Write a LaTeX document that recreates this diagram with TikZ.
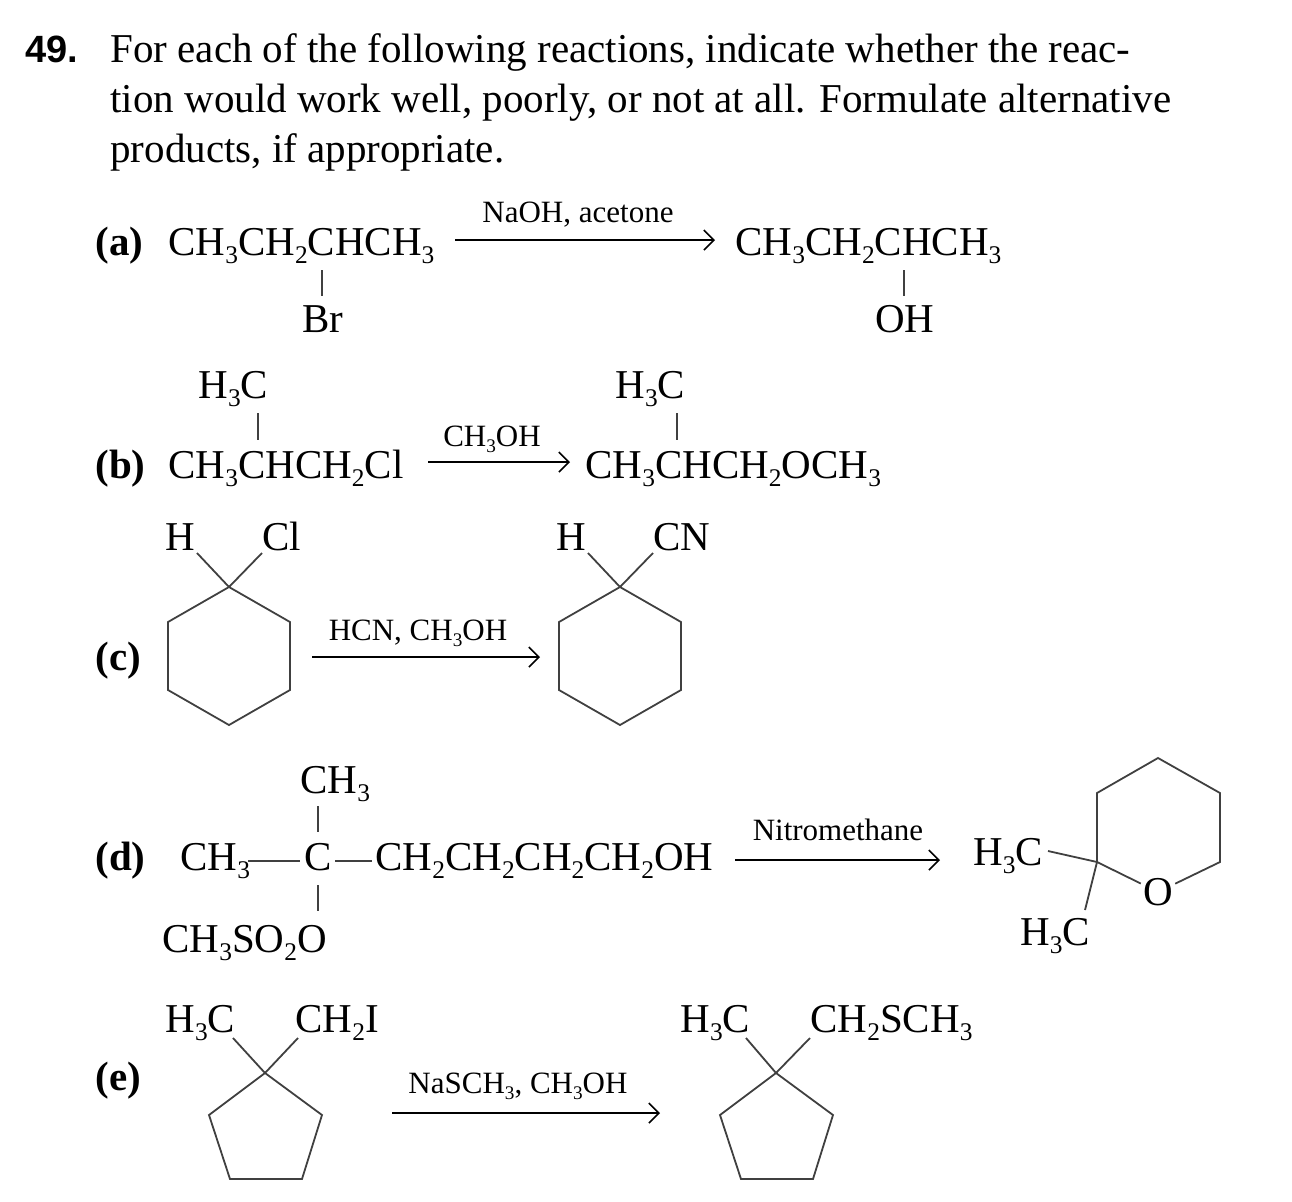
\documentclass[tikz,border=0pt]{standalone}
\usepackage{fontspec}
\usetikzlibrary{arrows.meta}
\setmainfont{Liberation Serif}
\newfontfamily\numfont{Liberation Sans}
\newcommand{\sbs}[1]{\raisebox{-0.45ex}{\scalebox{0.62}{#1}}}
\begin{document}
\begin{tikzpicture}[x=0.5pt,y=-0.5pt,
  txt/.style={inner sep=0pt,anchor=base west,font=\fontsize{20.5}{22}\selectfont},
  chem/.style={inner sep=0pt,anchor=base west,font=\fontsize{20.5}{22}\selectfont},
  lab/.style={inner sep=0pt,anchor=base,font=\fontsize{15.5}{16}\selectfont},
  bnd/.style={line width=0.9pt,draw=black!75},
  rxn/.style={line width=0.8pt,-{Straight Barb[length=5pt]}}]
\useasboundingbox (0,0) rectangle (1292,1201);
\node[txt,font=\numfont\bfseries\fontsize{19}{22}\selectfont] (num) at (25,62) {49.};
\node[txt] (l1) at (110,62) {For each of the following reactions, indicate whether the reac-};
\node[txt] (l2) at (110,112) {tion would work well, poorly, or not at all. Formulate alternative};
\node[txt] (l3) at (110,162) {products, if appropriate.};
% (a)
\node[chem] (pa) at (95,255) {\textbf{(a)}};
\node[chem] (a1) at (168,255) {CH\sbs3CH\sbs2CHCH\sbs3};
\node[chem,anchor=base] (abr) at (323,332) {Br};
\draw[bnd] (322,270) -- (322,296);
\coordinate (aa1) at (455,240); \coordinate (aa2) at (715,240);
\draw[rxn] (aa1) -- (aa2);
\node[lab] (alab) at (578,222) {NaOH, acetone};
\node[chem] (a2) at (735,255) {CH\sbs3CH\sbs2CHCH\sbs3};
\node[chem,anchor=base] (aoh) at (905,332) {OH};
\draw[bnd] (904,270) -- (904,296);
% (b)
\node[chem] (bh) at (198,398) {H\sbs3C};
\draw[bnd] (258,413) -- (258,440);
\node[chem] (pb) at (95,478) {\textbf{(b)}};
\node[chem] (b1) at (168,478) {CH\sbs3CHCH\sbs2Cl};
\coordinate (ba1) at (428,462); \coordinate (ba2) at (570,462);
\draw[rxn] (ba1) -- (ba2);
\node[lab] (blab) at (492,446) {CH\sbs3OH};
\node[chem] (bh2) at (615,398) {H\sbs3C};
\draw[bnd] (677,413) -- (677,440);
\node[chem] (b2) at (585,478) {CH\sbs3CHCH\sbs2OCH\sbs3};
% (c)
\node[chem] (pc) at (95,670) {\textbf{(c)}};
\coordinate (ct) at (229,587);
\draw[bnd] (ct) -- ++(-61,35) -- ++(0,68) -- ++(61,35) -- ++(61,-35) -- ++(0,-68) -- cycle;
\node[chem] (ch) at (165,550) {H};
\node[chem] (ccl) at (262,550) {Cl};
\draw[bnd] (ct) -- (197,553);
\draw[bnd] (ct) -- (262,553);
\coordinate (ca1) at (312,657); \coordinate (ca2) at (540,657);
\draw[rxn] (ca1) -- (ca2);
\node[lab] (clab) at (418,640) {HCN, CH\sbs3OH};
\coordinate (ct2) at (620,587);
\draw[bnd] (ct2) -- ++(-61,35) -- ++(0,68) -- ++(61,35) -- ++(61,-35) -- ++(0,-68) -- cycle;
\node[chem] (ch2) at (556,550) {H};
\node[chem] (ccn) at (653,550) {CN};
\draw[bnd] (ct2) -- (588,553);
\draw[bnd] (ct2) -- (653,553);
% (d)
\node[chem] (dch3) at (300,793) {CH\sbs3};
\draw[bnd] (318,806) -- (318,832);
\node[chem] (pd) at (95,870) {\textbf{(d)}};
\node[chem] (d1) at (180,870) {CH\sbs3};
\draw[bnd] (248,861) -- (300,861);
\node[chem,anchor=base] (dc) at (318,870) {C};
\draw[bnd] (335,861) -- (372,861);
\node[chem] (d2) at (375,870) {CH\sbs2CH\sbs2CH\sbs2CH\sbs2OH};
\draw[bnd] (318,885) -- (318,911);
\node[chem] (d3) at (162,952) {CH\sbs3SO\sbs2O};
\coordinate (da1) at (735,860); \coordinate (da2) at (940,860);
\draw[rxn] (da1) -- (da2);
\node[lab] (dlab) at (838,840) {Nitromethane};
\coordinate (r1) at (1097,862); \coordinate (r2) at (1097,793); \coordinate (r3) at (1158,758);
\coordinate (r4) at (1220,793); \coordinate (r5) at (1220,862);
\node[chem,anchor=center,inner sep=1pt] (dO) at (1158,892) {O};
\draw[bnd] (dO) -- (r5) -- (r4) -- (r3) -- (r2) -- (r1) -- (dO);
\node[chem,anchor=base] (dm1) at (1008,865) {H\sbs3C};
\node[chem,anchor=base] (dm2) at (1055,945) {H\sbs3C};
\draw[bnd] (1048,851) -- (r1);
\draw[bnd] (r1) -- (1085,910);
% (e)
\node[chem] (pe) at (95,1090) {\textbf{(e)}};
\coordinate (et) at (265,1073);
\draw[bnd] (et) -- ++(-56,42) -- ++(21,64) -- ++(72,0) -- ++(20,-64) -- cycle;
\node[chem] (eh) at (165,1032) {H\sbs3C};
\node[chem] (ei) at (295,1032) {CH\sbs2I};
\draw[bnd] (et) -- (233,1038);
\draw[bnd] (et) -- (298,1038);
\coordinate (ea1) at (392,1113); \coordinate (ea2) at (660,1113);
\draw[rxn] (ea1) -- (ea2);
\node[lab] (elab) at (518,1093) {NaSCH\sbs3, CH\sbs3OH};
\coordinate (et2) at (776,1073);
\draw[bnd] (et2) -- ++(-56,42) -- ++(21,64) -- ++(72,0) -- ++(20,-64) -- cycle;
\node[chem] (eh2) at (680,1032) {H\sbs3C};
\node[chem] (es) at (810,1032) {CH\sbs2SCH\sbs3};
\draw[bnd] (et2) -- (746,1038);
\draw[bnd] (et2) -- (810,1038);
\end{tikzpicture}
\end{document}
